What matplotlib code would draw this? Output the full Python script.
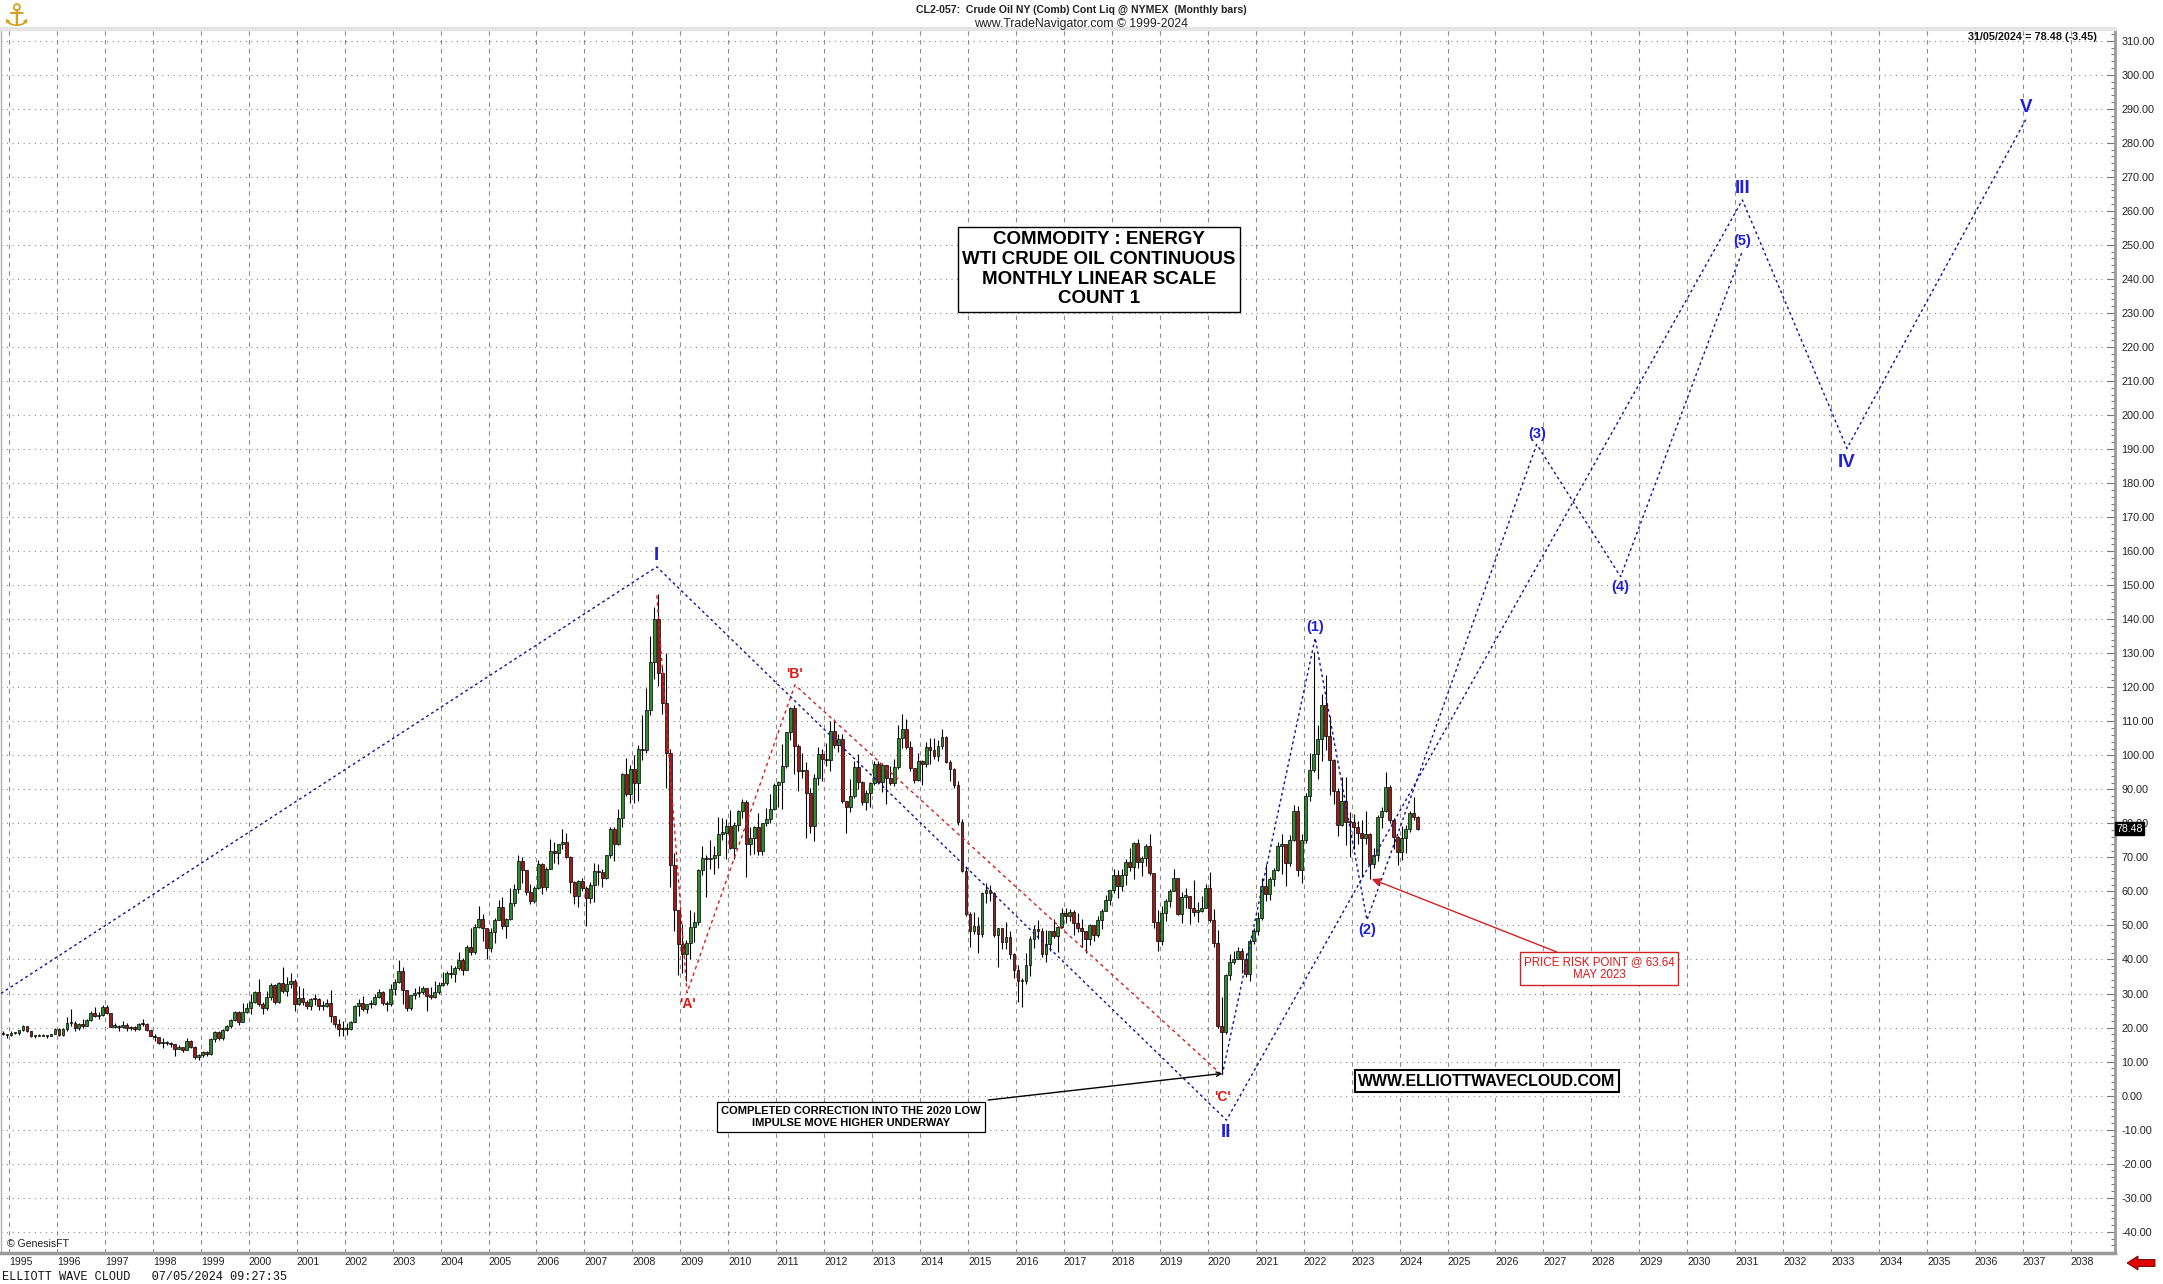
import numpy as np
import matplotlib
matplotlib.use("Agg")
import matplotlib.pyplot as plt
from matplotlib.ticker import FixedLocator, MultipleLocator, FuncFormatter
from matplotlib.patches import Polygon
from matplotlib.transforms import blended_transform_factory

plt.rcParams['font.family'] = ['Liberation Sans', 'DejaVu Sans']

# ---------------- data ----------------
start_year, start_month = 1994, 11     # first monthly bar: Nov 1994
first_open = 18.19

closes = [
    18.05, 17.76,                                                                     # 1994
    18.39, 18.49, 19.17, 20.38, 18.89, 17.40, 17.56, 17.84, 17.54, 17.64, 18.18, 19.55,  # 1995
    17.74, 19.54, 21.47, 21.20, 19.76, 20.92, 20.42, 22.25, 24.38, 23.35, 23.75, 25.92,  # 1996
    24.15, 20.30, 20.41, 20.21, 20.88, 19.80, 20.14, 19.61, 21.18, 21.08, 19.15, 17.64,  # 1997
    17.21, 15.44, 15.61, 15.39, 15.20, 13.72, 14.17, 13.47, 16.14, 14.42, 11.22, 12.05,  # 1998
    12.75, 12.27, 16.76, 18.66, 16.84, 19.29, 20.53, 22.10, 24.51, 21.75, 24.59, 25.60,  # 1999
    27.64, 30.43, 26.90, 25.74, 29.01, 32.50, 27.43, 33.12, 30.84, 32.70, 33.82, 26.80,  # 2000
    28.66, 27.39, 26.29, 28.46, 28.37, 26.25, 26.35, 27.20, 23.43, 21.18, 19.44, 19.84,  # 2001
    19.48, 21.74, 26.31, 27.29, 25.31, 26.86, 27.02, 28.98, 30.45, 27.22, 26.89, 31.20,  # 2002
    33.51, 36.60, 31.04, 25.80, 29.56, 30.19, 30.54, 31.57, 29.20, 29.11, 30.41, 32.52,  # 2003
    33.05, 36.16, 35.76, 37.38, 39.88, 37.05, 43.80, 42.12, 49.64, 51.76, 49.13, 43.45,  # 2004
    48.20, 51.75, 55.40, 49.72, 51.97, 56.50, 60.57, 68.94, 66.24, 59.76, 57.32, 61.04,  # 2005
    67.92, 61.41, 66.63, 71.88, 71.29, 73.93, 74.40, 70.26, 62.91, 58.73, 63.13, 61.05,  # 2006
    58.14, 61.79, 65.87, 65.71, 64.01, 70.68, 78.21, 74.04, 81.66, 94.53, 88.71, 95.98,  # 2007
    91.75, 101.84, 101.58, 113.46, 127.35, 140.00, 124.08, 115.46, 100.64, 67.81, 54.43, 44.60,  # 2008
    41.68, 44.76, 49.66, 51.12, 66.31, 69.89, 69.45, 69.96, 70.61, 77.00, 77.28, 79.36,  # 2009
    72.89, 79.66, 83.76, 86.15, 73.97, 75.63, 78.95, 71.92, 79.97, 81.43, 84.11, 91.38,  # 2010
    92.19, 96.97, 106.72, 113.93, 102.70, 95.42, 95.70, 88.81, 79.20, 93.19, 100.36, 98.83,  # 2011
    98.48, 107.07, 103.02, 104.87, 86.53, 84.96, 88.06, 96.47, 92.19, 86.24, 88.91, 91.82,  # 2012
    97.49, 92.05, 97.23, 93.46, 91.97, 96.56, 105.03, 107.65, 102.33, 96.38, 92.72, 98.42,  # 2013
    97.49, 102.59, 101.58, 99.74, 102.71, 105.37, 98.17, 95.96, 91.16, 80.54, 66.15, 53.27,  # 2014
    48.24, 49.76, 47.60, 59.63, 60.30, 59.47, 47.12, 49.20, 45.09, 46.59, 41.65, 37.04,  # 2015
    33.62, 33.75, 38.34, 45.92, 49.10, 48.33, 41.60, 44.70, 48.24, 46.86, 49.44, 53.72,  # 2016
    52.81, 54.01, 50.60, 49.33, 48.32, 46.04, 50.17, 47.23, 51.67, 54.38, 57.40, 60.42,  # 2017
    64.73, 61.64, 64.94, 68.57, 67.04, 74.15, 68.76, 69.80, 73.25, 65.31, 50.93, 45.41,  # 2018
    53.79, 57.22, 60.14, 63.91, 53.50, 58.47, 58.58, 55.10, 54.07, 54.18, 55.17, 61.06,  # 2019
    51.56, 44.76, 20.48, 18.84, 35.49, 39.27, 40.27, 42.61, 40.22, 35.79, 45.34, 48.52,  # 2020
    52.20, 61.50, 59.16, 63.58, 66.32, 73.47, 73.95, 68.50, 75.03, 83.57, 66.18, 75.21,  # 2021
    88.15, 95.72, 100.28, 104.69, 114.67, 105.76, 98.62, 89.55, 79.49, 86.53, 80.55, 80.26,  # 2022
    78.87, 77.05, 75.67, 76.78, 68.09, 70.64, 81.80, 83.63, 90.79, 81.02, 75.96, 71.65,  # 2023
    75.85, 78.26, 83.17, 81.93, 78.48,                                                # 2024
]

highs = [
    18.90, 18.25,
    18.90, 18.80, 19.40, 20.65, 20.45, 19.00, 17.90, 18.10, 18.05, 17.80, 18.25, 19.80,
    19.95, 19.80, 23.00, 25.50, 22.00, 21.20, 22.50, 22.55, 24.90, 25.90, 24.55, 26.60,
    26.60, 24.40, 21.40, 20.70, 21.90, 21.25, 20.40, 20.40, 21.40, 22.40, 21.20, 19.20,
    18.20, 17.30, 16.80, 16.00, 15.90, 15.20, 14.95, 14.10, 16.80, 16.30, 14.50, 12.20,
    13.20, 13.10, 16.90, 18.90, 18.90, 19.50, 20.80, 22.50, 25.00, 24.80, 27.10, 27.20,
    30.00, 30.70, 34.40, 27.60, 30.70, 33.20, 32.90, 33.45, 37.80, 35.00, 36.10, 34.20,
    32.30, 31.60, 28.10, 28.80, 29.90, 28.70, 27.70, 28.40, 31.10, 23.50, 22.60, 21.80,
    21.40, 22.00, 26.50, 28.40, 29.30, 27.00, 28.15, 30.00, 31.20, 30.70, 27.90, 32.70,
    34.30, 39.99, 37.80, 30.90, 29.70, 31.60, 32.20, 32.30, 29.70, 31.80, 33.70, 33.50,
    36.30, 36.70, 38.40, 38.20, 42.30, 40.30, 44.30, 49.40, 50.50, 55.67, 53.40, 46.90,
    49.25, 52.15, 57.60, 58.30, 52.30, 60.95, 62.10, 70.85, 70.00, 66.40, 62.10, 61.70,
    69.20, 68.40, 67.30, 75.35, 74.40, 74.00, 78.40, 77.30, 70.30, 63.00, 63.30, 64.00,
    61.50, 62.70, 68.30, 68.10, 66.70, 70.80, 78.80, 78.80, 84.10, 94.75, 99.29, 97.10,
    100.09, 103.05, 111.80, 119.93, 135.09, 143.67, 147.27, 126.30, 130.00, 102.00, 71.22, 54.60,
    50.47, 45.70, 54.66, 54.00, 66.50, 73.38, 70.60, 75.00, 73.40, 82.00, 81.48, 81.40,
    83.95, 80.50, 83.85, 87.15, 87.00, 79.00, 79.30, 83.00, 80.10, 84.40, 88.60, 92.00,
    92.60, 103.40, 106.95, 114.20, 114.80, 103.40, 100.60, 98.10, 90.50, 94.65, 102.44, 101.80,
    103.74, 109.95, 110.55, 106.40, 106.20, 86.00, 92.90, 98.30, 100.42, 92.40, 89.90, 92.10,
    98.20, 98.24, 97.80, 97.20, 96.80, 99.00, 108.90, 112.24, 110.70, 104.20, 95.40, 100.80,
    98.70, 104.00, 105.20, 104.99, 104.40, 107.73, 105.80, 98.70, 96.20, 92.50, 81.20, 67.20,
    54.00, 54.00, 52.50, 59.90, 62.58, 61.80, 59.80, 49.30, 49.20, 50.90, 48.40, 42.00,
    38.40, 34.70, 41.90, 46.78, 50.20, 51.67, 49.30, 48.75, 48.50, 51.93, 49.90, 55.24,
    55.24, 54.90, 54.50, 53.80, 52.00, 48.40, 50.40, 50.20, 52.86, 54.90, 59.05, 60.50,
    66.66, 66.20, 66.50, 69.60, 72.90, 74.50, 75.27, 70.30, 73.90, 76.90, 64.20, 54.60,
    55.70, 57.80, 60.70, 66.60, 63.90, 59.90, 60.90, 58.80, 63.38, 56.90, 58.70, 62.30,
    65.65, 54.70, 48.66, 29.10, 35.60, 41.60, 42.50, 43.80, 43.40, 41.90, 46.00, 49.40,
    53.93, 63.81, 67.98, 64.30, 67.00, 74.45, 76.98, 74.00, 76.67, 85.41, 84.97, 76.90,
    88.84, 100.54, 130.50, 109.00, 118.00, 123.68, 111.45, 98.90, 90.39, 93.64, 93.74, 83.34,
    82.66, 80.62, 81.04, 83.53, 77.24, 72.72, 82.40, 84.89, 95.03, 91.20, 81.50, 76.18,
    79.29, 79.62, 83.75, 87.67, 82.10,
]

lows = [
    17.70, 16.95,
    17.55, 18.05, 17.90, 19.10, 18.70, 17.20, 16.95, 17.40, 17.40, 17.05, 17.55, 18.00,
    17.40, 17.60, 19.10, 20.60, 19.00, 19.30, 19.90, 20.40, 21.80, 23.10, 22.40, 23.50,
    24.00, 20.10, 20.00, 19.00, 19.90, 18.90, 19.20, 19.10, 19.20, 20.60, 19.00, 17.50,
    16.10, 15.30, 13.90, 14.90, 14.40, 11.70, 13.60, 12.90, 13.30, 14.00, 10.80, 10.35,
    11.30, 11.50, 12.00, 15.80, 16.20, 16.40, 18.90, 19.90, 21.80, 20.70, 21.80, 24.20,
    24.00, 27.10, 26.30, 23.85, 25.20, 28.20, 26.90, 27.30, 30.10, 29.40, 31.70, 25.00,
    26.60, 26.60, 25.50, 25.30, 26.60, 25.30, 25.30, 25.90, 21.60, 20.30, 17.45, 17.60,
    17.80, 19.40, 21.60, 23.40, 24.90, 24.20, 25.70, 26.70, 28.60, 26.70, 25.00, 26.40,
    29.50, 33.00, 26.80, 24.90, 25.10, 28.30, 29.00, 30.00, 25.00, 28.50, 28.80, 29.80,
    32.20, 32.50, 34.70, 33.50, 36.90, 35.30, 36.90, 41.30, 41.70, 49.20, 45.40, 40.25,
    42.10, 44.90, 51.50, 49.10, 46.20, 51.60, 55.70, 59.60, 62.60, 59.10, 56.20, 56.70,
    60.80, 59.30, 60.50, 66.50, 68.50, 68.20, 72.60, 69.90, 59.50, 56.40, 55.40, 60.10,
    49.90, 56.70, 56.90, 61.80, 61.30, 63.70, 69.70, 69.00, 73.50, 78.90, 87.90, 85.90,
    86.11, 86.60, 98.70, 100.60, 111.80, 122.30, 120.42, 112.20, 90.51, 61.30, 48.25, 35.40,
    36.00, 33.55, 40.10, 45.10, 50.00, 64.70, 58.32, 66.50, 65.00, 66.80, 75.20, 69.50,
    72.40, 69.50, 77.70, 81.60, 64.24, 70.80, 71.10, 70.80, 70.76, 79.30, 80.20, 83.90,
    84.90, 84.10, 96.20, 104.40, 94.63, 89.60, 93.40, 75.71, 77.10, 74.95, 91.30, 92.50,
    97.00, 95.50, 102.10, 101.10, 86.10, 77.28, 83.30, 87.40, 90.00, 85.50, 84.05, 84.80,
    91.40, 91.70, 89.30, 85.60, 91.20, 91.00, 95.90, 102.20, 101.80, 95.40, 91.80, 92.50,
    91.24, 96.60, 97.40, 98.80, 98.40, 101.80, 97.70, 92.50, 90.40, 79.44, 65.70, 52.70,
    43.58, 47.40, 42.00, 46.70, 56.50, 57.20, 46.70, 37.75, 43.20, 43.00, 40.00, 34.50,
    27.56, 26.05, 32.70, 35.24, 43.50, 45.90, 40.60, 39.20, 42.50, 46.30, 42.20, 49.30,
    50.70, 51.20, 47.09, 48.20, 43.80, 42.05, 44.40, 45.58, 46.50, 49.10, 54.20, 56.10,
    59.60, 58.10, 60.10, 61.80, 66.10, 63.60, 67.00, 64.40, 67.60, 64.90, 49.40, 42.36,
    44.40, 51.20, 55.40, 60.00, 53.00, 50.60, 55.00, 50.50, 52.80, 50.99, 54.00, 55.00,
    51.10, 43.80, 19.90, 6.50, 18.00, 34.00, 38.70, 40.00, 36.10, 34.90, 33.60, 44.60,
    47.20, 51.60, 57.30, 57.63, 61.60, 66.10, 65.01, 61.74, 67.60, 74.96, 64.43, 62.43,
    74.27, 86.55, 95.00, 92.93, 98.20, 101.53, 88.23, 85.73, 76.25, 79.32, 73.60, 70.08,
    72.46, 73.80, 64.12, 73.86, 63.64, 66.80, 69.01, 78.76, 83.23, 80.10, 72.37, 67.71,
    69.28, 71.41, 77.48, 81.11, 78.00,
]

# Elliott wave paths (decimal year, price)
wave_major_x = [1994.83, 2008.51, 2020.39, 2031.15, 2033.33, 2037.07]
wave_major_y = [30.0, 155.4, -7.2, 263.2, 190.2, 287.1]
wave_major_labels = ['', 'I', 'II', 'III', 'IV', 'V']
wave_major_label_y = [None, 158.8, -10.9, 266.6, 186.0, 290.4]

wave_minor_x = [2020.30, 2022.24, 2023.32, 2026.86, 2028.61, 2031.15]
wave_minor_y = [6.0, 134.5, 51.6, 191.4, 152.5, 248.2]
wave_minor_labels = ['', '(1)', '(2)', '(3)', '(4)', '(5)']
wave_minor_label_y = [None, 137.6, 48.6, 194.3, 149.6, 251.2]

wave_abc_x = [2008.51, 2009.14, 2011.39, 2020.30]
wave_abc_y = [147.0, 30.2, 120.7, 6.0]
wave_abc_labels = ['', "'A'", "'B'", "'C'"]
wave_abc_label_y = [None, 26.8, 123.8, -0.3]

year_ticks = list(range(1995, 2039))
last_date_text = "31/05/2024 = 78.48 (-3.45)"
last_price = 78.48
risk_point = (2023.42, 63.64)

# ---------------- figure ----------------
W, H = 2163, 1284
fig = plt.figure(figsize=(W / 100, H / 100), dpi=100)
fig.patch.set_facecolor('white')
ax_l, ax_r, ax_t, ax_b = 1, 2115, 29, 1253
ax = fig.add_axes([ax_l / W, (H - ax_b) / H, (ax_r - ax_l) / W, (ax_b - ax_t) / H])
ax.set_xlim(1994.833, 2038.92)
ax.set_ylim(-46.25, 313.44)

# candles
n = len(closes)
xs = np.array([start_year + (start_month - 1 + i + 0.5) / 12.0 for i in range(n)])
c = np.array(closes)
o = np.array([first_open] + closes[:-1])
h = np.array(highs)
l = np.array(lows)
up = c >= o
ax.vlines(xs, l, h, color='black', lw=0.8, zorder=3)
body_bottom = np.minimum(o, c)
body_h = np.maximum(np.abs(c - o), 0.35)
bw = 0.72 / 12
ax.bar(xs[up], body_h[up], bottom=body_bottom[up], width=bw, color='#2f8a2f',
       edgecolor='black', linewidth=0.5, zorder=4)
ax.bar(xs[~up], body_h[~up], bottom=body_bottom[~up], width=bw, color='#9c1c1c',
       edgecolor='black', linewidth=0.5, zorder=4)

# wave lines
blue_line = '#10109a'
blue_lab = '#1f1fd8'
red_line = '#d42020'
ax.plot(wave_major_x, wave_major_y, color=blue_line, lw=1.0, ls=(0, (2, 2.2)), zorder=5)
ax.plot(wave_minor_x, wave_minor_y, color=blue_line, lw=1.0, ls=(0, (2, 2.2)), zorder=5)
ax.plot(wave_abc_x, wave_abc_y, color=red_line, lw=1.0, ls=(0, (2.5, 2.5)), zorder=5)

for x, lab, ly in zip(wave_major_x, wave_major_labels, wave_major_label_y):
    if lab:
        ax.text(x, ly, lab, color=blue_lab, fontsize=13.5, fontweight='bold',
                ha='center', va='center', zorder=6)
for x, lab, ly in zip(wave_minor_x, wave_minor_labels, wave_minor_label_y):
    if lab:
        ax.text(x, ly, lab, color=blue_lab, fontsize=10.5, fontweight='bold',
                ha='center', va='center', zorder=6)
for x, lab, ly in zip(wave_abc_x, wave_abc_labels, wave_abc_label_y):
    if lab:
        ax.text(x, ly, lab, color='#e01515', fontsize=10, fontweight='bold',
                ha='center', va='center', zorder=6)

# text boxes
ax.text(2017.73, 242.8, "COMMODITY : ENERGY\nWTI CRUDE OIL CONTINUOUS\nMONTHLY LINEAR SCALE\nCOUNT 1",
        fontsize=13.5, fontweight='bold', ha='center', va='center', linespacing=1.2,
        bbox=dict(boxstyle='square,pad=0.25', fc='white', ec='black', lw=1.0), zorder=7)
ax.text(2025.82, 4.2, "WWW.ELLIOTTWAVECLOUD.COM", fontsize=11.4, fontweight='bold',
        ha='center', va='center',
        bbox=dict(boxstyle='square,pad=0.22', fc='white', ec='black', lw=1.5), zorder=7)
ax.text(2012.56, -6.3, "COMPLETED CORRECTION INTO THE 2020 LOW\nIMPULSE MOVE HIGHER UNDERWAY",
        fontsize=8, fontweight='bold', ha='center', va='center', linespacing=1.15,
        bbox=dict(boxstyle='square,pad=0.38', fc='white', ec='black', lw=0.9), zorder=7)
ax.text(2028.16, 37.4, "PRICE RISK POINT @ 63.64\nMAY 2023", fontsize=8.3, color='#e01515',
        ha='center', va='center', linespacing=1.15,
        bbox=dict(boxstyle='square,pad=0.35', fc='white', ec='#d42020', lw=1.0), zorder=7)

ax.annotate('', xy=(2020.30, 6.5), xytext=(2015.42, -1.3),
            arrowprops=dict(arrowstyle='->', color='black', lw=1.0, shrinkA=0, shrinkB=0,
                            mutation_scale=8), zorder=7)
ax.annotate('', xy=risk_point, xytext=(2027.28, 42.2),
            arrowprops=dict(arrowstyle='-|>', color='#d42020', lw=1.0, shrinkA=0, shrinkB=0,
                            mutation_scale=12), zorder=7)

# grid / axes
ax.xaxis.set_major_locator(FixedLocator(year_ticks))
ax.set_xticklabels([str(y) for y in year_ticks], ha='left')
ax.yaxis.set_major_locator(MultipleLocator(10))
ax.yaxis.set_minor_locator(MultipleLocator(2))
ax.yaxis.set_major_formatter(FuncFormatter(lambda v, p: f"{v:.2f}"))
ax.yaxis.tick_right()
ax.tick_params(axis='y', which='major', direction='in', length=6, width=0.8, color='#777777',
               labelsize=7.8, pad=4.5, labelcolor='#222222')
ax.tick_params(axis='y', which='minor', direction='in', length=3, width=0.8, color='#777777')
ax.tick_params(axis='x', which='major', length=0, labelsize=7.6, pad=3, labelcolor='#222222')
for lab in ax.get_xticklabels():
    lab.set_horizontalalignment('left')
ax.grid(axis='x', which='major', color='#8c8c8c', lw=0.8, ls=(0, (4, 4)), zorder=0)
ax.grid(axis='y', which='major', color='#6e6e6e', lw=0.8, ls=(0, (0.8, 4.2)), zorder=0)
ax.set_axisbelow(True)
ax.spines['right'].set_color('#9a9a9a'); ax.spines['right'].set_linewidth(2)
ax.spines['bottom'].set_color('#9a9a9a'); ax.spines['bottom'].set_linewidth(2.5)
ax.spines['left'].set_color('#b0b0b0'); ax.spines['left'].set_linewidth(1)
ax.spines['top'].set_color('#e4e4e4'); ax.spines['top'].set_linewidth(3)

# last price tag
trans = blended_transform_factory(ax.transAxes, ax.transData)
ax.text(1.0008, last_price, f"{last_price:.2f}", transform=trans, ha='left', va='center',
        fontsize=7.6, color='white', zorder=10, clip_on=False,
        bbox=dict(boxstyle='square,pad=0.12', fc='black', ec='black'))
ax.text(0.9915, 0.9935, last_date_text, transform=ax.transAxes, ha='right', va='center',
        fontsize=7.8, fontweight='bold', color='#111111')
ax.text(0.003, 0.003, "© GenesisFT", transform=ax.transAxes, ha='left', va='bottom',
        fontsize=7.6, color='#222222')

# header / footer
fig.text(0.4998, 1 - 9.5 / H, "CL2-057:  Crude Oil NY (Comb) Cont Liq @ NYMEX  (Monthly bars)",
         ha='center', va='center', fontsize=7.6, fontweight='bold', color='#222222')
fig.text(0.4998, 1 - 24 / H, "www.TradeNavigator.com © 1999-2024",
         ha='center', va='center', fontsize=8.8, color='#222222')
fig.text(2 / W, 7 / H, "ELLIOTT WAVE CLOUD   07/05/2024 09:27:35", ha='left', va='center',
         fontsize=8.6, family=['Liberation Mono', 'DejaVu Sans Mono'], color='#111111')
fig.text(2 / W, 1 - 17 / H, "\u2693", ha='left', va='center', fontsize=22, color='#d4a017',
         family=['DejaVu Sans'])

# red arrow marker bottom-right
arrow_px = [(2127, 1263), (2138, 1256), (2138, 1259.5), (2155, 1259.5), (2155, 1266.5),
            (2138, 1266.5), (2138, 1270)]
fig.patches.append(Polygon([(x / W, 1 - y / H) for x, y in arrow_px], closed=True,
                           transform=fig.transFigure, fc='#e00000', ec='#600000', lw=0.6))

fig.savefig('out.png', dpi=100, facecolor='white')
